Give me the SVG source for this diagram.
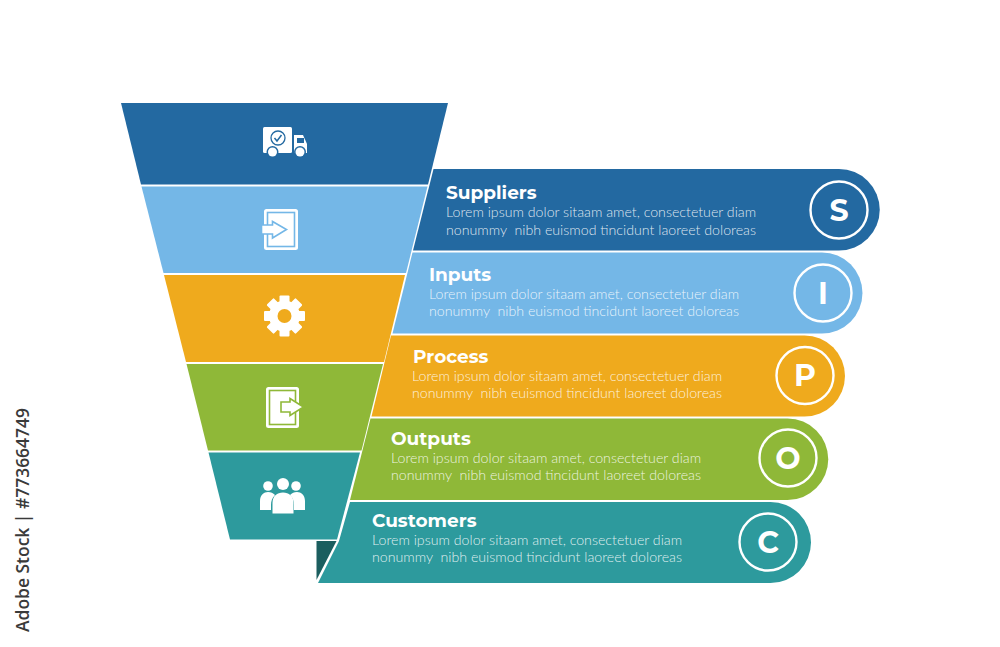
<svg xmlns="http://www.w3.org/2000/svg" width="1000" height="647" viewBox="0 0 1000 647">
<style>
.t{font-family:"Montserrat","Inter","Liberation Sans",sans-serif;font-weight:700;font-size:18.500px;fill:#fff}
.b{font-family:"Lato","Liberation Sans",sans-serif;font-weight:300;font-size:14.200px;fill:#fff;fill-opacity:.85;white-space:pre}
.l{font-family:"Montserrat","Inter","Liberation Sans",sans-serif;font-weight:700;font-size:30px;fill:#fff;text-anchor:middle}
.c{fill:none;stroke:#fff;stroke-width:2.400}
.w{fill:#fff}
</style>
<rect width="1000" height="647" fill="#fff"/>
<text transform="translate(29 632) rotate(-90)" font-family="'Open Sans','Liberation Sans',sans-serif" font-weight="600" font-size="18" fill="#3a3a3a" textLength="224" lengthAdjust="spacingAndGlyphs">Adobe Stock | #773664749</text>
<g id="funnel-suppliers">
<polygon points="121,103 448,103 428,184.500 141,184.500" fill="#2369A1"/>
<g id="icon-truck">
<rect x="263" y="127" width="29" height="26" rx="1.500" class="w"/>
<path class="w" d="M294 135H303L307 144V153H294Z"/>
<rect x="297" y="138" width="7" height="5" fill="#2369A1"/>
<circle cx="272.500" cy="152" r="6" fill="#2369A1"/><circle cx="272.500" cy="152" r="4.500" class="w"/>
<circle cx="300" cy="152" r="6" fill="#2369A1"/><circle cx="300" cy="152" r="4.500" class="w"/>
<circle cx="278" cy="138" r="7" fill="none" stroke="#2369A1" stroke-width="1.300"/>
<path d="M274.500 138L277 141L281.500 135" fill="none" stroke="#2369A1" stroke-width="1.500"/>
</g>
</g>
<g id="funnel-inputs">
<polygon points="141.500,186.500 427.500,186.500 406,273 163.500,273" fill="#74B7E7"/>
<g id="icon-input">
<rect x="264" y="209" width="34" height="41" rx="2.500" class="w"/>
<rect x="267.500" y="212.500" width="27" height="34" fill="none" stroke="#74B7E7" stroke-width="1.600"/>
<path class="w" stroke="#74B7E7" stroke-width="1.600" d="M261.500 225H272.500V221.500L286.500 229.500L272.500 238V234H261.500Z"/>
</g>
</g>
<g id="funnel-process">
<polygon points="164,275 405,275 384,362 186,362" fill="#EFAA1D"/>
<g id="icon-gear" transform="translate(284.500 316)">
<circle r="15.500" class="w"/>
<g class="w">
<rect x="-5" y="-20.500" width="10" height="41" rx="1"/>
<rect x="-5" y="-20.500" width="10" height="41" rx="1" transform="rotate(45)"/>
<rect x="-5" y="-20.500" width="10" height="41" rx="1" transform="rotate(90)"/>
<rect x="-5" y="-20.500" width="10" height="41" rx="1" transform="rotate(135)"/>
</g>
<circle r="7" fill="#EFAA1D"/>
</g>
</g>
<g id="funnel-outputs">
<polygon points="186.500,364 383,364 361.500,450.500 208,450.500" fill="#8FB838"/>
<g id="icon-output">
<rect x="266" y="387" width="33" height="41" rx="2.500" class="w"/>
<rect x="269.500" y="390.500" width="26" height="34" fill="none" stroke="#8FB838" stroke-width="1.600"/>
<path class="w" stroke="#8FB838" stroke-width="1.600" d="M281 402H290V398.500L303.500 407L290 415.500V412H281Z"/>
</g>
</g>
<g id="funnel-customers">
<polygon points="208.500,452.500 360,452.500 337,539.500 230,539.500" fill="#2D9A9D"/>
<g id="icon-customers" class="w">
<circle cx="268" cy="486" r="4.800"/><circle cx="296" cy="486" r="4.800"/>
<path d="M260 510V501C260 495 264 492 268 492C271 492 273 493 275 495C272 498 271 501 271 505V510Z"/>
<path d="M305 510V501C305 495 301 492 297 492C294 492 292 493 290 495C293 498 294 501 294 505V510Z"/>
<circle cx="283" cy="484" r="6"/>
<path d="M272.500 513.500V503C272.500 496 277 492.500 283 492.500C289 492.500 293.500 496 293.500 503V513.500Z"/>
</g>
</g>
<polygon id="fold" points="316.500,541 336.500,541 316.500,580" fill="#1B5E5F"/>
<g id="row-suppliers">
<path d="M433.500 169H839A40.500 40.500 0 0 1 839 250.500H413Z" fill="#2369A1"/>
<circle class="c" cx="839" cy="210" r="28.500"/><text class="l" x="839" y="220.500">S</text>
<text class="t" x="446" y="199">Suppliers</text>
<text class="b" x="446" y="217">Lorem ipsum dolor sitaam amet, consectetuer diam</text>
<text class="b" x="446" y="235">nonummy  nibh euismod tincidunt laoreet doloreas</text>
</g>
<g id="row-inputs">
<path d="M412.500 252.500H822A40.500 40.500 0 0 1 822 333.500H392.500Z" fill="#74B7E7"/>
<circle class="c" cx="823" cy="293" r="28.500"/><text class="l" x="823" y="303.500">I</text>
<text class="t" x="429" y="281">Inputs</text>
<text class="b" x="429" y="299">Lorem ipsum dolor sitaam amet, consectetuer diam</text>
<text class="b" x="429" y="316">nonummy  nibh euismod tincidunt laoreet doloreas</text>
</g>
<g id="row-process">
<path d="M391 335.500H804.500A40.500 40.500 0 0 1 804.500 416.500H371.500Z" fill="#EFAA1D"/>
<circle class="c" cx="805" cy="375.500" r="28.500"/><text class="l" x="805" y="386">P</text>
<text class="t" x="413" y="363">Process</text>
<text class="b" x="412" y="381">Lorem ipsum dolor sitaam amet, consectetuer diam</text>
<text class="b" x="412" y="398">nonummy  nibh euismod tincidunt laoreet doloreas</text>
</g>
<g id="row-outputs">
<path d="M370.500 418.500H787.500A40.500 40.500 0 0 1 787.500 500H350Z" fill="#8FB838"/>
<circle class="c" cx="788" cy="458" r="28.500"/><text class="l" x="788" y="468.500">O</text>
<text class="t" x="391" y="445">Outputs</text>
<text class="b" x="391" y="463">Lorem ipsum dolor sitaam amet, consectetuer diam</text>
<text class="b" x="391" y="480">nonummy  nibh euismod tincidunt laoreet doloreas</text>
</g>
<g id="row-customers">
<path d="M350 502H770.500A40.500 40.500 0 0 1 770.500 583H318L339 541Z" fill="#2D9A9D"/>
<circle class="c" cx="768" cy="542" r="28.500"/><text class="l" x="768" y="552.500">C</text>
<text class="t" x="372" y="527">Customers</text>
<text class="b" x="372" y="545">Lorem ipsum dolor sitaam amet, consectetuer diam</text>
<text class="b" x="372" y="562">nonummy  nibh euismod tincidunt laoreet doloreas</text>
</g>
</svg>
